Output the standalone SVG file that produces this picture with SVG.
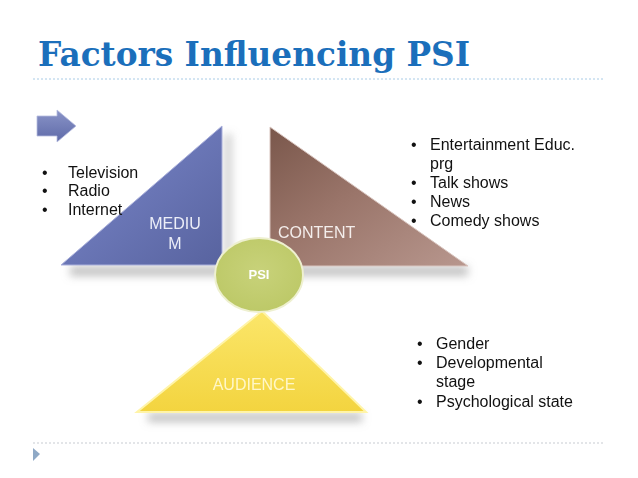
<svg xmlns="http://www.w3.org/2000/svg" width="638" height="478" viewBox="0 0 638 478">
<defs>
<style>
.t{font-family:"Liberation Sans",Arial,sans-serif;font-size:16px;fill:#111}
.w{font-family:"Liberation Sans",Arial,sans-serif;font-size:16px}
</style>
<filter id="blur" x="-20%" y="-100%" width="140%" height="300%"><feGaussianBlur stdDeviation="4"/></filter>
<linearGradient id="gMed" x1="0" y1="0" x2="1" y2="1">
<stop offset="0" stop-color="#8b93cc"/><stop offset="0.5" stop-color="#6a76b6"/><stop offset="1" stop-color="#58639f"/>
</linearGradient>
<linearGradient id="gCon" x1="0" y1="0" x2="1" y2="1">
<stop offset="0" stop-color="#7a574b"/><stop offset="0.45" stop-color="#9a756a"/><stop offset="1" stop-color="#b8978e"/>
</linearGradient>
<linearGradient id="gAud" x1="0" y1="0" x2="0" y2="1">
<stop offset="0" stop-color="#fbe66a"/><stop offset="1" stop-color="#f3d43f"/>
</linearGradient>
<radialGradient id="gPsi" cx="0.5" cy="0.45" r="0.6">
<stop offset="0" stop-color="#c8d27a"/><stop offset="1" stop-color="#bcc866"/>
</radialGradient>
<linearGradient id="gArr" x1="0" y1="0" x2="0" y2="1">
<stop offset="0" stop-color="#8a94c8"/><stop offset="1" stop-color="#5e6aa8"/>
</linearGradient>
</defs>
<rect width="638" height="478" fill="#fff"/>
<g id="title">
<text x="38" y="66" font-family="'DejaVu Serif',serif" font-weight="bold" font-size="34" fill="#1b6fbb" textLength="432" lengthAdjust="spacingAndGlyphs">Factors Influencing PSI</text>
<line x1="33" y1="79" x2="605" y2="79" stroke="#a8cbe6" stroke-width="1" stroke-dasharray="2,2"/>
</g>
<g id="footer">
<line x1="33" y1="443" x2="605" y2="443" stroke="#c8ccd2" stroke-width="1.2" stroke-dasharray="2,2"/>
<polygon points="33,448 40,454 33,461" fill="#8fa9c6"/>
</g>
<g id="arrow">
<polygon points="37,116 57,116 57,110 76,126 57,142 57,136 37,136" fill="url(#gArr)" stroke="#b6bde0" stroke-width="0.8"/>
</g>
<g id="shadows" filter="url(#blur)">
<rect x="70" y="266" width="152" height="10" fill="#9a9a9a" opacity="0.6"/>
<rect x="224" y="134" width="8" height="132" fill="#9a9a9a" opacity="0.45"/>
<rect x="278" y="266" width="190" height="10" fill="#9a9a9a" opacity="0.6"/>
<rect x="148" y="413" width="214" height="9" fill="#9a9a9a" opacity="0.6"/>
</g>
<g id="medium">
<polygon points="222,126 222,265 61,265" fill="url(#gMed)" stroke="#aab0db" stroke-width="1"/>
<text class="w" fill="#eceef8" x="175" y="229" text-anchor="middle">MEDIU</text>
<text class="w" fill="#eceef8" x="175" y="249" text-anchor="middle">M</text>
</g>
<g id="content">
<polygon points="270,127 468,266 270,266" fill="url(#gCon)" stroke="#d8c4be" stroke-width="1"/>
<text class="w" fill="#f4eeec" x="278" y="238">CONTENT</text>
</g>
<g id="audience">
<polygon points="262,311 366,412 137,412" fill="url(#gAud)" stroke="#fff4a8" stroke-width="2"/>
<text class="w" fill="#fff7c8" x="254" y="390" text-anchor="middle">AUDIENCE</text>
</g>
<g id="psi">
<ellipse cx="259" cy="275" rx="44" ry="37" fill="url(#gPsi)" stroke="#eef0d0" stroke-width="2"/>
<text x="259" y="279" text-anchor="middle" font-family="'Liberation Sans',Arial,sans-serif" font-weight="bold" font-size="13" fill="#fff">PSI</text>
</g>
<g id="list-medium">
<text class="t" x="42" y="178">•</text><text class="t" x="68" y="178">Television</text>
<text class="t" x="42" y="196">•</text><text class="t" x="68" y="196">Radio</text>
<text class="t" x="42" y="215">•</text><text class="t" x="68" y="215">Internet</text>
</g>
<g id="list-content">
<text class="t" x="411" y="150">•</text><text class="t" x="430" y="150">Entertainment Educ.</text>
<text class="t" x="430" y="169">prg</text>
<text class="t" x="411" y="188">•</text><text class="t" x="430" y="188">Talk shows</text>
<text class="t" x="411" y="207">•</text><text class="t" x="430" y="207">News</text>
<text class="t" x="411" y="226">•</text><text class="t" x="430" y="226">Comedy shows</text>
</g>
<g id="list-audience">
<text class="t" x="417" y="349">•</text><text class="t" x="436" y="349">Gender</text>
<text class="t" x="417" y="368">•</text><text class="t" x="436" y="368">Developmental</text>
<text class="t" x="436" y="387">stage</text>
<text class="t" x="417" y="407">•</text><text class="t" x="436" y="407">Psychological state</text>
</g>
<g id="connectors"/>
</svg>
